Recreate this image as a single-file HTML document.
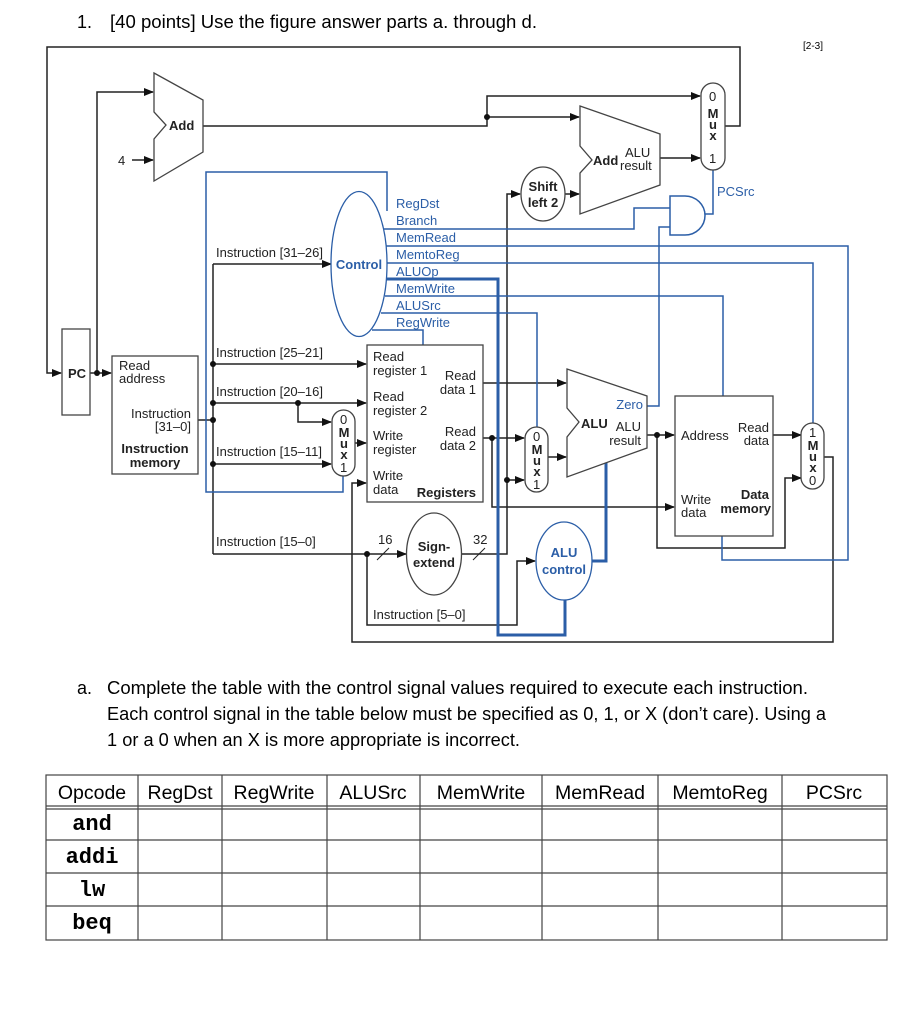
<!DOCTYPE html>
<html><head><meta charset="utf-8"><style>
html,body{margin:0;padding:0;background:#fff;}
svg{display:block;}
.t{font-family:"Liberation Sans",sans-serif;font-size:13px;fill:#222;}
.b{font-weight:bold;}
.bl{fill:#2b5ea7;}
.n{font-family:"Liberation Sans Narrow","Liberation Sans",sans-serif;fill:#000;}
.m{font-family:"Liberation Mono",monospace;font-weight:bold;font-size:22px;fill:#000;}
</style></head><body>
<svg width="902" height="1024" viewBox="0 0 902 1024" xmlns="http://www.w3.org/2000/svg">
<defs>
<marker id="a" markerWidth="10" markerHeight="8" refX="9" refY="4" orient="auto" markerUnits="userSpaceOnUse"><path d="M0,0 L10,4 L0,8 Z" fill="#111"/></marker>
</defs>
<!-- title -->
<text class="n" x="77" y="28" font-size="18">1.</text>
<text class="n" x="110" y="28" font-size="18" textLength="427" lengthAdjust="spacingAndGlyphs">[40 points] Use the figure answer parts a. through d.</text>
<text class="n" x="803" y="49" font-size="10">[2-3]</text>

<g fill="none" stroke="#222" stroke-width="1.5">
<path d="M725,126 H740 V47 H47 V373 H61" marker-end="url(#a)"/>
<path d="M90,373 H111" marker-end="url(#a)"/>
<path d="M97,373 V92 H153" marker-end="url(#a)"/>
<path d="M132,160 H153" marker-end="url(#a)"/>
<path d="M203,126 H487 V96 H700" marker-end="url(#a)"/>
<path d="M487,117 H579" marker-end="url(#a)"/>
<path d="M660,158 H700" marker-end="url(#a)"/>
<path d="M198,420 H213 M213,264 V554"/>
<path d="M213,264 H331" marker-end="url(#a)"/>
<path d="M213,364 H366" marker-end="url(#a)"/>
<path d="M213,403 H366" marker-end="url(#a)"/>
<path d="M298,403 V422 H331" marker-end="url(#a)"/>
<path d="M213,464 H331" marker-end="url(#a)"/>
<path d="M355,443 H366" marker-end="url(#a)"/>
<path d="M213,554 H406" marker-end="url(#a)"/>
<path d="M367,554 V625 H517 V561 H535" marker-end="url(#a)"/>
<path d="M462,554 H507 V194 H520" marker-end="url(#a)"/>
<path d="M507,480 H524" marker-end="url(#a)"/>
<path d="M565,194 H579" marker-end="url(#a)"/>
<path d="M483,383 H566" marker-end="url(#a)"/>
<path d="M483,438 H524" marker-end="url(#a)"/>
<path d="M492,438 V507 H674" marker-end="url(#a)"/>
<path d="M548,457 H566" marker-end="url(#a)"/>
<path d="M647,435 H674" marker-end="url(#a)"/>
<path d="M657,435 V548 H785 V478 H801" marker-end="url(#a)"/>
<path d="M773,435 H801" marker-end="url(#a)"/>
<path d="M824,457 H833 V642 H352 V483 H366" marker-end="url(#a)"/>
<path d="M377,560 L389,548 M473,560 L485,548" stroke-width="1"/>
</g>
<g fill="#111">
<circle cx="97" cy="373" r="3"/><circle cx="487" cy="117" r="3"/>
<circle cx="213" cy="364" r="3"/><circle cx="213" cy="403" r="3"/><circle cx="213" cy="420" r="3"/><circle cx="213" cy="464" r="3"/>
<circle cx="298" cy="403" r="3"/><circle cx="367" cy="554" r="3"/><circle cx="507" cy="480" r="3"/>
<circle cx="492" cy="438" r="3"/><circle cx="657" cy="435" r="3"/>
</g>

<!-- blue control lines -->
<g fill="none" stroke="#2b5ea7" stroke-width="1.5">
<path d="M387,211 V172 H206 V492 H343 V476"/>
<path d="M382,229 H634 V208 H670"/>
<path d="M385,246 H848 V560 H722 V536"/>
<path d="M387,263 H813 V423"/>
<path d="M385,296 H723 V396"/>
<path d="M381,313 H537 V427"/>
<path d="M372,330 H423 V345"/>
<path d="M647,406 H659 V227 H670"/>
<path d="M705,214 H713 V170"/>
<path d="M386,279 H498 V635 H565 V600" stroke-width="3"/>
<path d="M606,463 V561 H592" stroke-width="3"/>
</g>

<!-- components -->
<g fill="#fff" stroke="#444" stroke-width="1.3">
<rect x="62" y="329" width="28" height="86"/>
<rect x="112" y="356" width="86" height="118"/>
<rect x="367" y="345" width="116" height="157"/>
<rect x="675" y="396" width="98" height="140"/>
<path d="M154,73 L203,100 V152 L154,181 V139 L166,125 L154,112 Z"/>
<path d="M580,106 L660,134 V185 L580,214 V173 L592,160 L580,146 Z"/>
<path d="M567,369 L647,396 V448 L567,477 V437 L579,422 L567,408 Z"/>
<rect x="701" y="83" width="24" height="87" rx="12"/>
<rect x="332" y="410" width="23" height="66" rx="11.5"/>
<rect x="525" y="427" width="23" height="65" rx="11.5"/>
<rect x="801" y="423" width="23" height="66" rx="11.5"/>
<ellipse cx="543" cy="194" rx="22" ry="27"/>
<ellipse cx="434" cy="554" rx="27.5" ry="41"/>
</g>
<ellipse cx="359" cy="264" rx="28" ry="72.5" fill="#fff" stroke="#2b5ea7" stroke-width="1.3"/>
<ellipse cx="564" cy="561" rx="28" ry="39" fill="#fff" stroke="#2b5ea7" stroke-width="1.3"/>
<path d="M670,196 H685 A20,19.5 0 0 1 685,235 H670 Z" fill="#fff" stroke="#2b5ea7" stroke-width="1.5"/>

<!-- labels -->
<text class="t b" x="68" y="378">PC</text>
<text class="t" x="119" y="370">Read</text><text class="t" x="119" y="383">address</text>
<text class="t" x="191" y="418" text-anchor="end">Instruction</text><text class="t" x="191" y="431" text-anchor="end">[31–0]</text>
<text class="t b" x="155" y="453" text-anchor="middle">Instruction</text><text class="t b" x="155" y="467" text-anchor="middle">memory</text>
<text class="t b" x="169" y="130">Add</text>
<text class="t" x="118" y="165">4</text>
<text class="t b" x="593" y="165">Add</text><text class="t" x="625" y="157">ALU</text><text class="t" x="620" y="170">result</text>
<text class="t" x="709" y="101">0</text><text class="t b" x="713" y="118" text-anchor="middle">M</text><text class="t b" x="713" y="129" text-anchor="middle">u</text><text class="t b" x="713" y="140" text-anchor="middle">x</text><text class="t" x="709" y="163">1</text>
<text class="t bl" x="717" y="196" font-size="15">PCSrc</text>
<text class="t b" x="543" y="191" text-anchor="middle">Shift</text><text class="t b" x="543" y="207" text-anchor="middle">left 2</text>
<text class="t b bl" x="359" y="269" text-anchor="middle">Control</text>
<g class="t bl"><text x="396" y="208">RegDst</text><text x="396" y="225">Branch</text><text x="396" y="242">MemRead</text><text x="396" y="259">MemtoReg</text><text x="396" y="276">ALUOp</text><text x="396" y="293">MemWrite</text><text x="396" y="310">ALUSrc</text><text x="396" y="327">RegWrite</text></g>
<text class="t" x="216" y="257" font-size="12">Instruction [31–26]</text>
<text class="t" x="216" y="357" font-size="12">Instruction [25–21]</text>
<text class="t" x="216" y="396" font-size="12">Instruction [20–16]</text>
<text class="t" x="216" y="456" font-size="12">Instruction [15–11]</text>
<text class="t" x="216" y="546" font-size="12">Instruction [15–0]</text>
<text class="t" x="373" y="619" font-size="12">Instruction [5–0]</text>
<text class="t" x="340" y="424" font-size="11">0</text><text class="t b" x="344" y="437" text-anchor="middle" font-size="12">M</text><text class="t b" x="344" y="448" text-anchor="middle" font-size="12">u</text><text class="t b" x="344" y="459" text-anchor="middle" font-size="12">x</text><text class="t" x="340" y="472" font-size="11">1</text>
<text class="t" x="533" y="441" font-size="11">0</text><text class="t b" x="537" y="454" text-anchor="middle" font-size="12">M</text><text class="t b" x="537" y="465" text-anchor="middle" font-size="12">u</text><text class="t b" x="537" y="476" text-anchor="middle" font-size="12">x</text><text class="t" x="533" y="489" font-size="11">1</text>
<text class="t" x="809" y="437" font-size="11">1</text><text class="t b" x="813" y="450" text-anchor="middle" font-size="12">M</text><text class="t b" x="813" y="461" text-anchor="middle" font-size="12">u</text><text class="t b" x="813" y="472" text-anchor="middle" font-size="12">x</text><text class="t" x="809" y="485" font-size="11">0</text>
<text class="t" x="373" y="361">Read</text><text class="t" x="373" y="375">register 1</text>
<text class="t" x="476" y="380" text-anchor="end">Read</text><text class="t" x="476" y="394" text-anchor="end">data 1</text>
<text class="t" x="373" y="401">Read</text><text class="t" x="373" y="415">register 2</text>
<text class="t" x="373" y="440">Write</text><text class="t" x="373" y="454">register</text>
<text class="t" x="476" y="436" text-anchor="end">Read</text><text class="t" x="476" y="450" text-anchor="end">data 2</text>
<text class="t" x="373" y="480">Write</text><text class="t" x="373" y="494">data</text>
<text class="t b" x="476" y="497" text-anchor="end">Registers</text>
<text class="t" x="378" y="544" font-size="12">16</text><text class="t" x="473" y="544" font-size="12">32</text>
<text class="t b" x="434" y="551" text-anchor="middle">Sign-</text><text class="t b" x="434" y="567" text-anchor="middle">extend</text>
<text class="t b bl" x="564" y="557" text-anchor="middle">ALU</text><text class="t b bl" x="564" y="574" text-anchor="middle">control</text>
<text class="t bl" x="643" y="409" text-anchor="end">Zero</text>
<text class="t b" x="581" y="428">ALU</text>
<text class="t" x="641" y="431" text-anchor="end">ALU</text><text class="t" x="641" y="445" text-anchor="end">result</text>
<text class="t" x="681" y="440">Address</text>
<text class="t" x="769" y="432" text-anchor="end">Read</text><text class="t" x="769" y="445" text-anchor="end">data</text>
<text class="t" x="681" y="504">Write</text><text class="t" x="681" y="517">data</text>
<text class="t b" x="769" y="499" text-anchor="end">Data</text><text class="t b" x="771" y="513" text-anchor="end">memory</text>

<!-- question text -->
<g class="n" font-size="18">
<text x="77" y="694">a.</text>
<text x="107" y="694" textLength="701" lengthAdjust="spacingAndGlyphs">Complete the table with the control signal values required to execute each instruction.</text>
<text x="107" y="720" textLength="719" lengthAdjust="spacingAndGlyphs">Each control signal in the table below must be specified as 0, 1, or X (don’t care). Using a</text>
<text x="107" y="746" textLength="413" lengthAdjust="spacingAndGlyphs">1 or a 0 when an X is more appropriate is incorrect.</text>
</g>

<!-- table -->
<g fill="none" stroke="#444" stroke-width="1.2">
<rect x="46" y="775" width="841" height="165"/>
<path d="M46,806 H887 M46,809 H887 M46,840 H887 M46,873 H887 M46,906 H887"/>
<path d="M138,775 V940 M222,775 V940 M327,775 V940 M420,775 V940 M542,775 V940 M658,775 V940 M782,775 V940"/>
</g>
<g class="n" font-size="19.5" text-anchor="middle">
<text x="92" y="799">Opcode</text><text x="180" y="799">RegDst</text><text x="274" y="799">RegWrite</text><text x="373" y="799">ALUSrc</text><text x="481" y="799">MemWrite</text><text x="600" y="799">MemRead</text><text x="720" y="799">MemtoReg</text><text x="834" y="799">PCSrc</text>
</g>
<g class="m" text-anchor="middle">
<text x="92" y="830">and</text><text x="92" y="863">addi</text><text x="92" y="896">lw</text><text x="92" y="929">beq</text>
</g>
</svg>
</body></html>
